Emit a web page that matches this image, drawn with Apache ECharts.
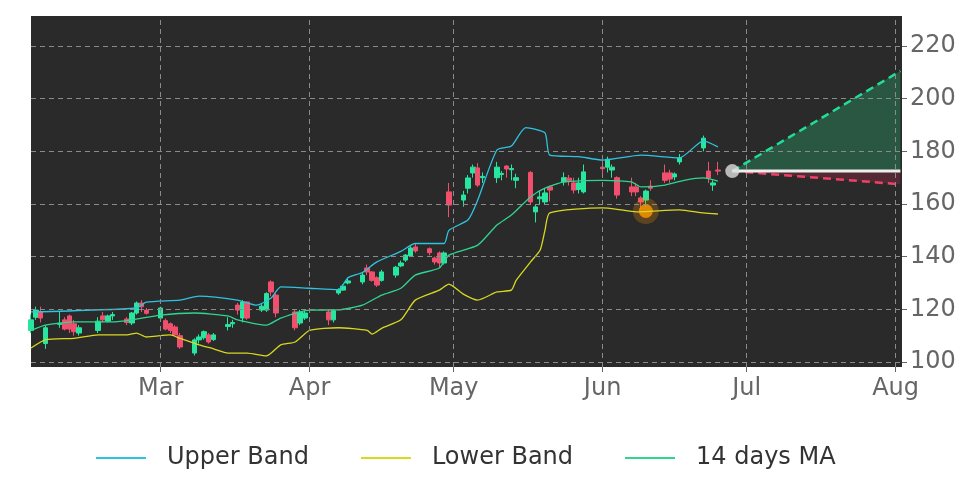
<!DOCTYPE html>
<html><head><meta charset="utf-8">
<script src="https://cdn.jsdelivr.net/npm/echarts@6/dist/echarts.min.js"></script>
<style>html,body{margin:0;padding:0;background:#fff}#c{width:972px;height:486px}</style>
</head><body><div id="c"></div>
<script>
// candles: [date, open, close, low, high]
const candleDates = ["2021-02-02","2021-02-03","2021-02-04","2021-02-05","2021-02-08","2021-02-09","2021-02-10","2021-02-11","2021-02-12","2021-02-16","2021-02-17","2021-02-18","2021-02-19","2021-02-22","2021-02-23","2021-02-24","2021-02-25","2021-02-26","2021-03-01","2021-03-02","2021-03-03","2021-03-04","2021-03-05","2021-03-08","2021-03-09","2021-03-10","2021-03-11","2021-03-12","2021-03-15","2021-03-16","2021-03-17","2021-03-18","2021-03-19","2021-03-22","2021-03-23","2021-03-24","2021-03-25","2021-03-29","2021-03-30","2021-03-31","2021-04-05","2021-04-06","2021-04-07","2021-04-08","2021-04-09","2021-04-12","2021-04-13","2021-04-14","2021-04-15","2021-04-16","2021-04-19","2021-04-20","2021-04-21","2021-04-22","2021-04-23","2021-04-26","2021-04-27","2021-04-28","2021-04-29","2021-04-30","2021-05-03","2021-05-04","2021-05-05","2021-05-06","2021-05-07","2021-05-10","2021-05-11","2021-05-12","2021-05-13","2021-05-14","2021-05-17","2021-05-18","2021-05-19","2021-05-20","2021-05-21","2021-05-24","2021-05-25","2021-05-26","2021-05-27","2021-05-28","2021-06-01","2021-06-02","2021-06-03","2021-06-04","2021-06-07","2021-06-08","2021-06-09","2021-06-10","2021-06-11","2021-06-14","2021-06-15","2021-06-16","2021-06-17","2021-06-22","2021-06-23","2021-06-24","2021-06-25"];
const opens  = [112,117,119,107,114.3,116,117.5,114.5,111,112,117.5,115.5,117.5,116.3,114.8,118.6,122.4,119.7,116.7,115.7,114.5,113.3,110,103.4,108.4,109.2,110.3,108.5,113.5,114.5,121.6,116.7,122.8,119.7,119.7,130.4,125.4,119,114.8,116.7,119,116,126.2,127.3,130,130.4,135.7,134.2,132,131,133,136.5,138.7,140.3,143.7,143,139.5,141.4,137.6,164.6,161.5,166,171.8,173.7,170,170,171.2,174.4,173,169,172,157,162,160.8,166.5,168.4,169.8,168,165.5,164.6,174,174,172.9,170,166.5,166.5,162.3,161.5,166.8,171.8,171.8,170.3,176,181.3,172.5,167.2,172.9];
const closes = [116,119.7,116.7,113,114.7,112.5,112.5,111.5,113,115.5,116,117.5,118,115,118.6,122.4,121,118.5,120.5,112.5,112,110.3,105.7,108.4,109.5,111.5,107.6,110.3,114.2,115,119.7,122.8,116.7,121.2,126,126.6,118.6,113,119,118.6,116,119.5,127.3,128.8,130.8,133,134.2,131,129.2,134.2,136,137.6,140.6,143.3,142.2,141.5,138,137.6,141.4,159.6,163.4,169.9,174,167.2,170.5,174,171.6,173.3,173.5,170,160.8,158.9,162.7,164.2,165.3,170,169,165.3,168,172.2,173.4,177,174,163.4,164.6,164.6,160.8,164.9,166,169,169.5,171.4,177.5,185,169.9,168,172.5];
const lows   = [111,116,115,105,113,112,111,110,110,111,115,115,116,114,114,118,119,118,116,112,111,110,105,102.5,107,108.5,107,108,112,113,118,115,116,119,119,125,117,112,114,116,114,115,125.5,127,129.5,129.5,133,130.5,128.5,130.5,132,136,138,140,141.5,140.5,137,136,137,155,159,164,170,166.5,168,168,169,170,169,166,160,153,160,160,161,167,167,164,164,164,171,172,170,162,163,163,158,159,165,168,168,169,175,180,168,165,171];
const highs  = [118,121,121,114,119,117,118,116,114,117,119,118,119,117,119,123,123.5,120.5,121,116.5,115,114,111,109,110.5,112,111,111,117,116,122.5,123.5,123,122,126.5,131,126,120,119.8,119.5,120,120,128,129.5,132,134,137,134.5,132.5,135,136.5,138.5,141,144,145,143.5,140,142,142,168,165,171,175,175.5,172,176,172.5,174.8,175,171.5,172.5,160,165,166,167,172,171,170,170,175,176.5,178,175,170.5,170,168,163,165.5,169,175,173,172,179,186,176,169,176];

const upperDates = ["2021-02-02","2021-02-24","2021-02-26","2021-03-05","2021-03-09","2021-03-17","2021-03-21","2021-03-24","2021-03-26","2021-04-01","2021-04-07","2021-04-09","2021-04-12","2021-04-15","2021-04-20","2021-04-23","2021-04-29","2021-04-30","2021-05-04","2021-05-06","2021-05-10","2021-05-13","2021-05-16","2021-05-20","2021-05-21","2021-05-27","2021-06-01","2021-06-09","2021-06-17","2021-06-22","2021-06-25"];
const upperVals  = [119,120.5,122.7,123.5,125,123.5,121.6,124.3,128.5,128,127.5,132,134,138,142,145,145,150,154,161.5,180.5,182,189,187,178.6,178,176.7,178.6,177.5,184,181.7];
const lowerDates = ["2021-02-02","2021-02-05","2021-02-11","2021-02-16","2021-02-22","2021-02-24","2021-02-26","2021-03-03","2021-03-05","2021-03-09","2021-03-12","2021-03-15","2021-03-19","2021-03-23","2021-03-26","2021-03-29","2021-04-01","2021-04-07","2021-04-13","2021-04-14","2021-04-16","2021-04-20","2021-04-23","2021-04-28","2021-04-30","2021-05-03","2021-05-06","2021-05-10","2021-05-13","2021-05-14","2021-05-17","2021-05-19","2021-05-20","2021-05-21","2021-06-01","2021-06-04","2021-06-08","2021-06-17","2021-06-22","2021-06-25"];
const lowerVals  = [105.3,108.4,109,110.3,110.3,111,109.5,110.3,109,106.5,105,103.4,103.4,102.3,106.5,107.6,112,113,112,110.6,112.8,116,123.5,127.3,129.6,125.8,123.5,126.6,127.3,131,138,142.5,150,156.6,158.5,158,157,157.8,156.6,156.2];
const maDates = ["2021-02-02","2021-02-05","2021-02-11","2021-02-19","2021-02-23","2021-03-01","2021-03-08","2021-03-15","2021-03-17","2021-03-23","2021-03-26","2021-04-01","2021-04-07","2021-04-12","2021-04-16","2021-04-20","2021-04-23","2021-04-28","2021-04-30","2021-05-06","2021-05-10","2021-05-13","2021-05-17","2021-05-20","2021-05-24","2021-06-01","2021-06-07","2021-06-09","2021-06-14","2021-06-18","2021-06-22","2021-06-25"];
const maVals  = [112,114,115.2,115.2,116,117.8,118.6,117.5,116,114,116.7,119.7,119.8,121.6,125.4,128,133,135.7,140.6,144.4,152,155.8,162.7,166,168.4,169,168.4,166.5,167.2,169,169.9,168.7];

const forecastDates = ["2021-06-28","2021-08-02"];
const forecastHigh = [172.5,210.5];
const forecastLow  = [172.5,167.5];
const lastPrice = 172.5;
const markerDate = "2021-06-10", markerVal = 157.3;

const yTicks = [100,120,140,160,180,200,220];
const xTicks = ["2021-03-01","2021-04-01","2021-05-01","2021-06-01","2021-07-01","2021-08-01"];
const monthNames = ["Jan","Feb","Mar","Apr","May","Jun","Jul","Aug","Sep","Oct","Nov","Dec"];

const ts = s => new Date(s+"T00:00:00Z").getTime();
const pairs = (d,v) => d.map((x,i)=>[ts(x),v[i]]);
const candles = candleDates.map((d,i)=>[ts(d),opens[i],closes[i],lows[i],highs[i]]);
const flat = forecastDates.map(d=>[ts(d),lastPrice]);
const gridLine = {color:'#8a8a8a',type:[5,4],width:1};
const lbl = {fontSize:24,color:'#666',fontFamily:'DejaVu Sans'};

const chart = echarts.init(document.getElementById('c'));
chart.setOption({
  animation:false,
  backgroundColor:'#fff',
  grid:{left:31,right:70,top:16,bottom:119,show:true,backgroundColor:'#2a2a2a',borderWidth:0},
  legend:{top:441,left:91,itemWidth:50,itemHeight:2,itemGap:52,icon:'rect',
    textStyle:{fontSize:24,color:'#333',fontFamily:'DejaVu Sans',padding:[0,0,0,16]},
    data:['Upper Band','Lower Band','14 days MA']},
  xAxis:{type:'value',min:ts("2021-02-02"),max:ts("2021-08-02")+8*3600e3,
    axisLine:{show:false},splitLine:{show:false},
    axisTick:{show:true,customValues:xTicks.map(ts),length:5,lineStyle:{color:'#666'}},
    axisLabel:Object.assign({customValues:xTicks.map(ts),margin:10,
      formatter:v=>monthNames[new Date(v).getUTCMonth()]},lbl)},
  yAxis:{type:'value',position:'right',min:98.1,max:231.4,
    axisLine:{show:false},splitLine:{show:false},
    axisTick:{show:true,customValues:yTicks,length:5,lineStyle:{color:'#666'}},
    axisLabel:Object.assign({customValues:yTicks,margin:8},lbl)},
  series:[
    {type:'line',name:'grid',data:[],silent:true,
      markLine:{symbol:'none',silent:true,label:{show:false},lineStyle:gridLine,
        data:yTicks.map(v=>({yAxis:v})).concat(xTicks.map(d=>({xAxis:ts(d)})))}},
    {type:'line',data:pairs(forecastDates,forecastHigh),symbol:'none',lineStyle:{color:'#22dd99',width:2.5,type:[8,5]},
      areaStyle:{origin:lastPrice,color:'rgba(40,150,100,0.6)'},z:3},
    {type:'line',data:pairs(forecastDates,forecastLow),symbol:'none',lineStyle:{color:'#f0406a',width:2.5,type:[8,5]},
      areaStyle:{origin:lastPrice,color:'rgba(120,40,60,0.75)'},z:3},
    {type:'line',data:flat,symbol:'none',lineStyle:{color:'#eeeeee',width:3},z:4},
    {type:'candlestick',data:candles,barWidth:5,
      itemStyle:{color:'#27e6a0',color0:'#f0506e',borderColor:'#27e6a0',borderColor0:'#f0506e',borderWidth:1}},
    {type:'line',name:'Upper Band',data:pairs(upperDates,upperVals),symbol:'none',smooth:0.2,lineStyle:{color:'#2ec4e0',width:1.3},itemStyle:{color:'#2ec4e0'}},
    {type:'line',name:'Lower Band',data:pairs(lowerDates,lowerVals),symbol:'none',smooth:0.2,lineStyle:{color:'#d8d820',width:1.3},itemStyle:{color:'#d8d820'}},
    {type:'line',name:'14 days MA',data:pairs(maDates,maVals),symbol:'none',smooth:0.2,lineStyle:{color:'#2ed68f',width:1.3},itemStyle:{color:'#2ed68f'}},
    {type:'scatter',data:[[ts(markerDate),markerVal]],symbolSize:26,itemStyle:{color:'rgba(255,150,0,0.3)'},silent:true},
    {type:'scatter',data:[[ts(markerDate),markerVal]],symbolSize:14,itemStyle:{color:'#ff9a00'}},
    {type:'scatter',data:[[ts(forecastDates[0]),lastPrice]],symbolSize:14,itemStyle:{color:'#dddddd'},z:10}
  ]
});
</script></body></html>
